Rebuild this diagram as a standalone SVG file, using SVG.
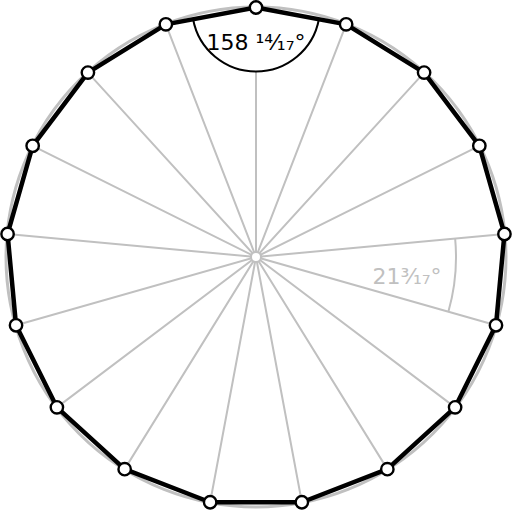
<svg xmlns="http://www.w3.org/2000/svg" width="513" height="511" viewBox="0 0 513 511">
<style>
.spoke{stroke:#c0c0c0;stroke-width:2;fill:none}
.edge{stroke:#000;stroke-width:4.5;fill:none;stroke-linejoin:round}
.v{fill:#fff;stroke:#000;stroke-width:2.4}
.lbl{font-family:"DejaVu Sans",sans-serif;font-size:22px}
</style>
<rect width="513" height="511" fill="#fff"/>
<circle cx="256" cy="257" r="250" fill="none" stroke="#c0c0c0" stroke-width="3"/>
<g id="connectors">
<path class="spoke" d="M256,257L256,7.5M256,257L346.13,24.35M256,257L424.09,72.62M256,257L479.34,145.79M256,257L504.43,233.98M256,257L495.98,325.28M256,257L455.11,407.36M256,257L387.34,469.13M256,257L301.85,502.25M256,257L210.15,502.25M256,257L124.66,469.13M256,257L56.89,407.36M256,257L16.02,325.28M256,257L7.57,233.98M256,257L32.66,145.79M256,257L87.91,72.62M256,257L165.87,24.35"/>
<path d="M455.15,238.55A200,200 0 0 1 448.37,311.73" fill="none" stroke="#c0c0c0" stroke-width="2"/>
<path d="M193.09,19.26A64,64 0 0 0 318.91,19.26L256,7.5Z" fill="#fff" stroke="#000" stroke-width="2"/>
<polygon class="edge" points="256,7.5 346.13,24.35 424.09,72.62 479.34,145.79 504.43,233.98 495.98,325.28 455.11,407.36 387.34,469.13 301.85,502.25 210.15,502.25 124.66,469.13 56.89,407.36 16.02,325.28 7.57,233.98 32.66,145.79 87.91,72.62 165.87,24.35"/>
</g>
<g id="center"><circle cx="256" cy="257" r="5" fill="#fff" stroke="#c0c0c0" stroke-width="2"/></g>
<g id="vertices">
<circle id="v0" class="v" cx="256" cy="7.5" r="6.2"/>
<circle id="v1" class="v" cx="346.13" cy="24.35" r="6.2"/>
<circle id="v2" class="v" cx="424.09" cy="72.62" r="6.2"/>
<circle id="v3" class="v" cx="479.34" cy="145.79" r="6.2"/>
<circle id="v4" class="v" cx="504.43" cy="233.98" r="6.2"/>
<circle id="v5" class="v" cx="495.98" cy="325.28" r="6.2"/>
<circle id="v6" class="v" cx="455.11" cy="407.36" r="6.2"/>
<circle id="v7" class="v" cx="387.34" cy="469.13" r="6.2"/>
<circle id="v8" class="v" cx="301.85" cy="502.25" r="6.2"/>
<circle id="v9" class="v" cx="210.15" cy="502.25" r="6.2"/>
<circle id="v10" class="v" cx="124.66" cy="469.13" r="6.2"/>
<circle id="v11" class="v" cx="56.89" cy="407.36" r="6.2"/>
<circle id="v12" class="v" cx="16.02" cy="325.28" r="6.2"/>
<circle id="v13" class="v" cx="7.57" cy="233.98" r="6.2"/>
<circle id="v14" class="v" cx="32.66" cy="145.79" r="6.2"/>
<circle id="v15" class="v" cx="87.91" cy="72.62" r="6.2"/>
<circle id="v16" class="v" cx="165.87" cy="24.35" r="6.2"/>
</g>
<g id="labels">
<text class="lbl" x="256" y="50" text-anchor="middle" fill="#000">158 ¹⁴⁄₁₇°</text>
<text class="lbl" x="407" y="284" text-anchor="middle" fill="#c0c0c0">21³⁄₁₇°</text>
</g>
</svg>
